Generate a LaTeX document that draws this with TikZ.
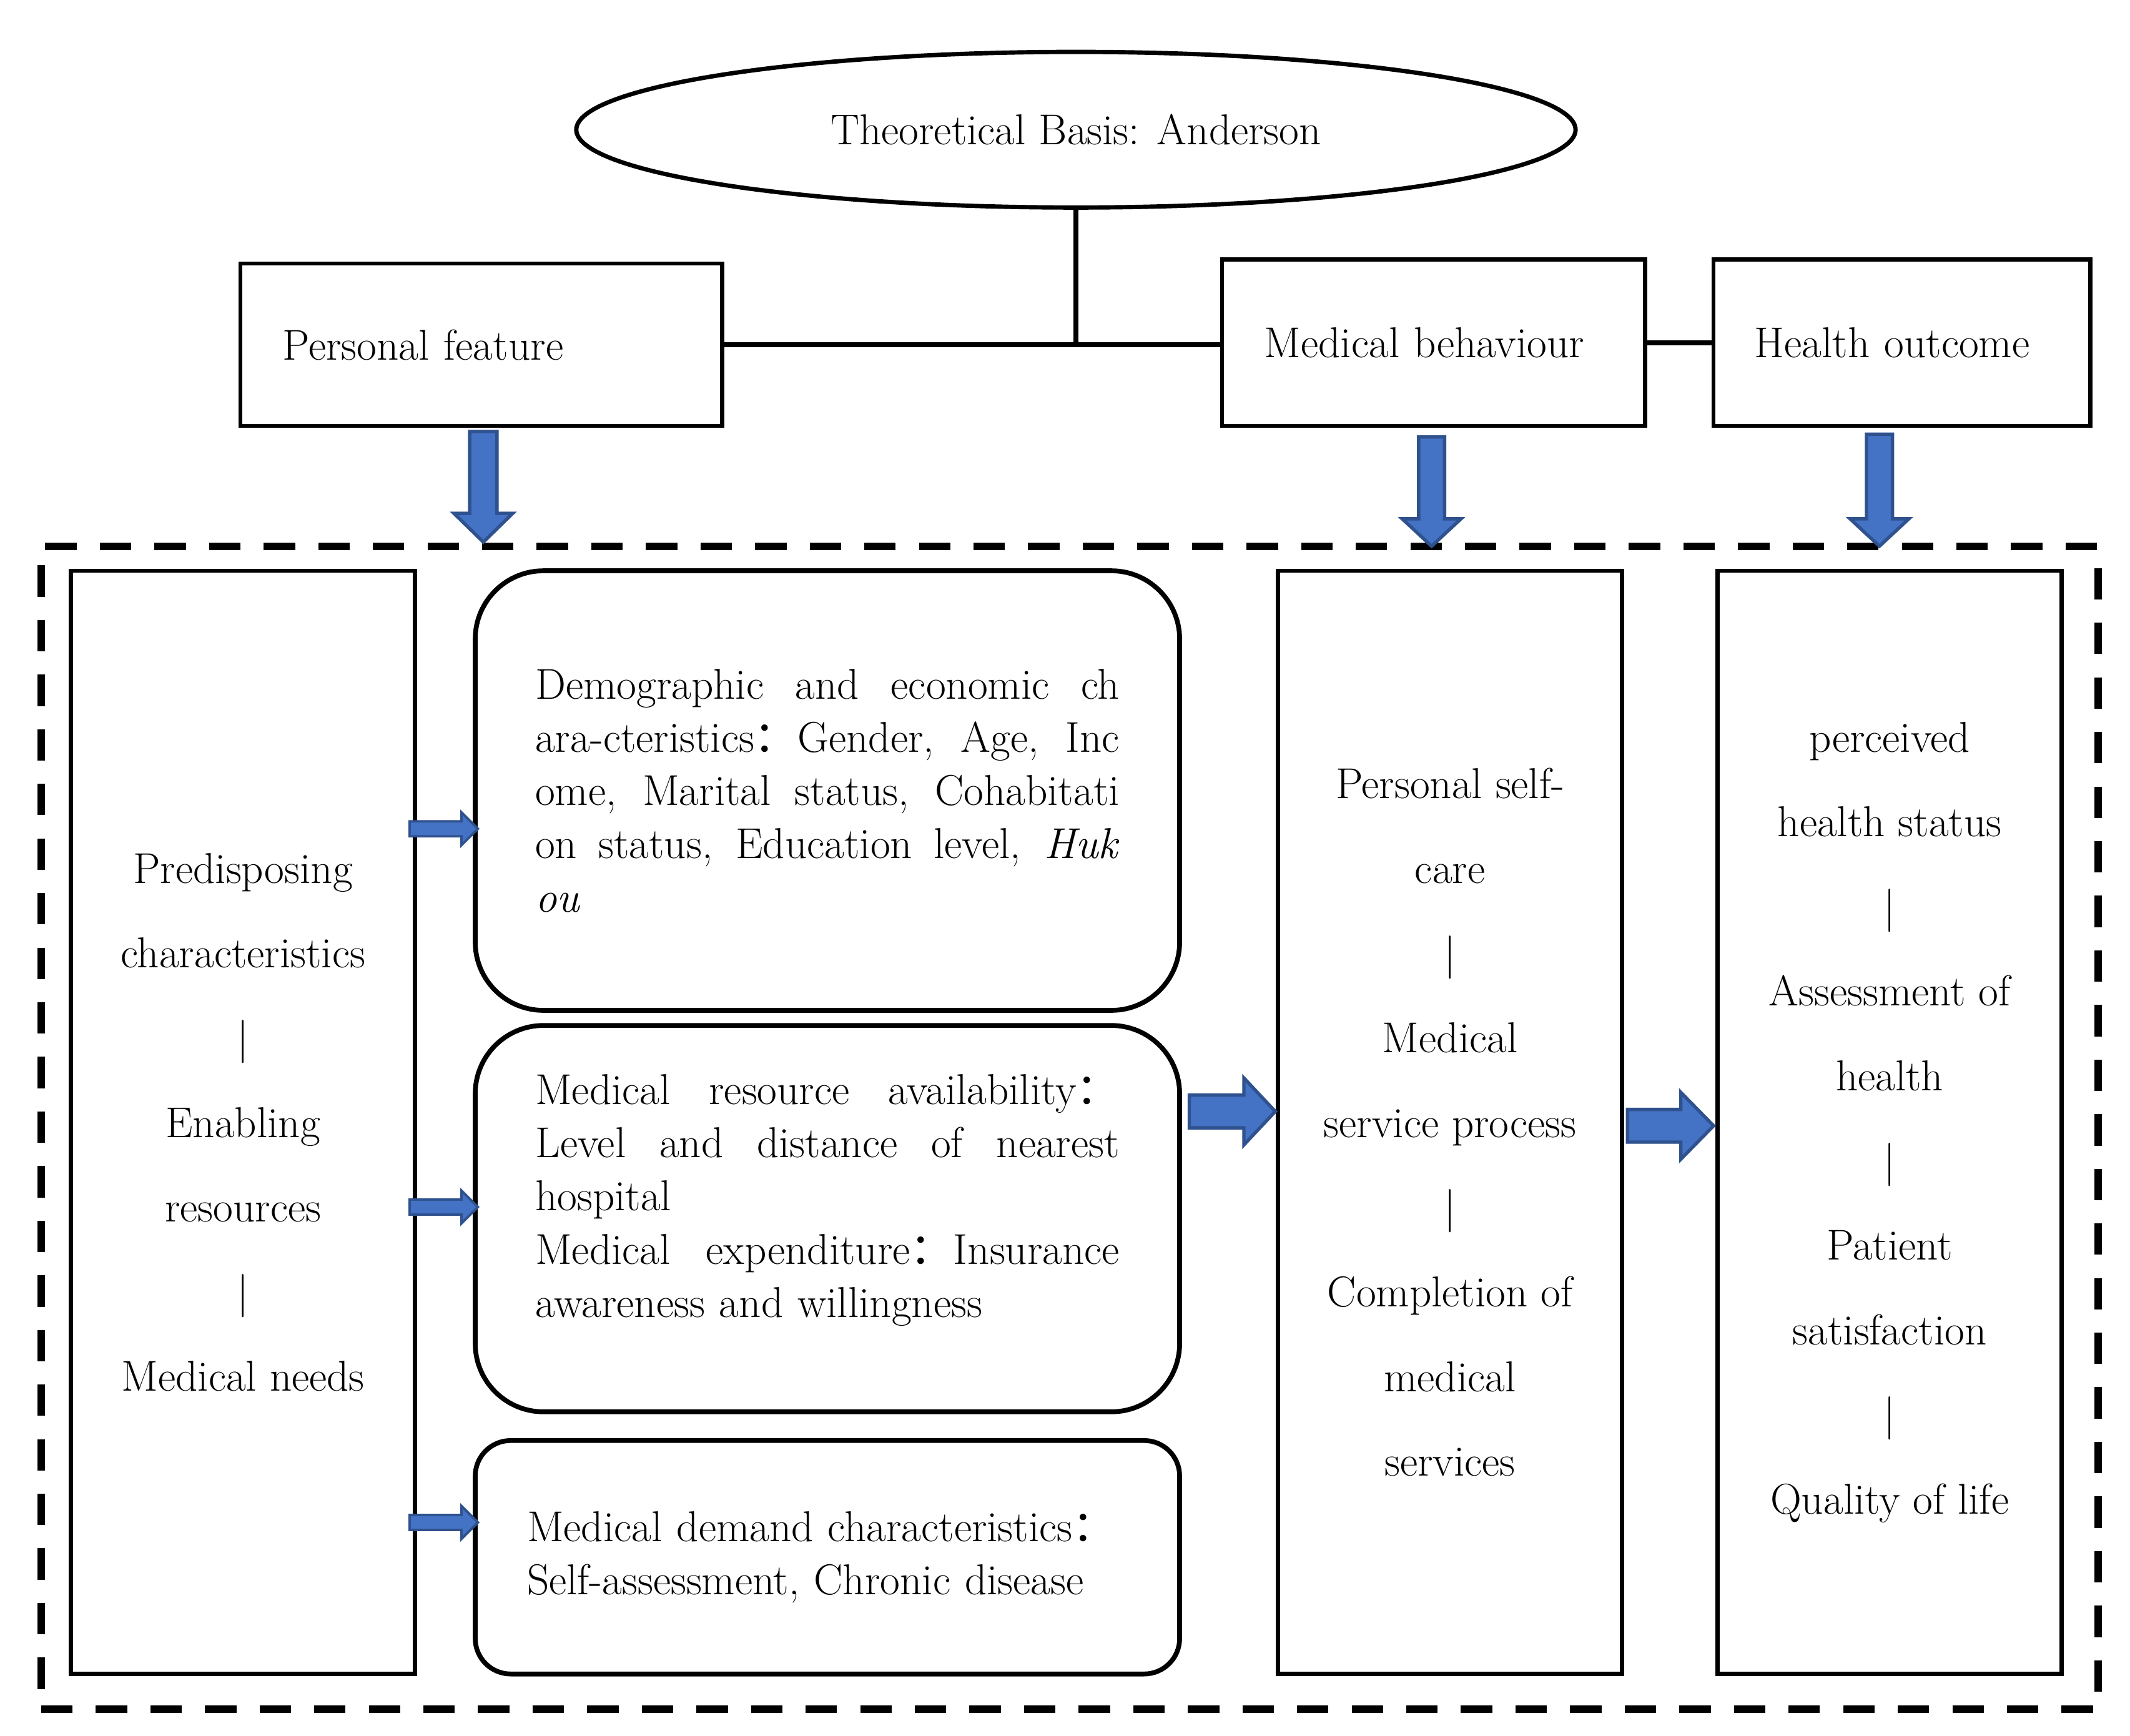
\documentclass[tikz,border=0pt]{standalone}
\usepackage{fontspec}
\newfontfamily\cjk{Noto Sans CJK SC}
\usetikzlibrary{shapes.geometric}
\definecolor{blueF}{RGB}{68,114,196}
\definecolor{blueD}{RGB}{47,82,143}
\newcommand\txtfont{\fontsize{18pt}{22.2pt}\selectfont}
\newcommand\colfont{\fontsize{18pt}{35.3pt}\selectfont}
\newcommand\jl[1]{\leavevmode\hbox to 8.56cm{\spaceskip=0.3333em plus 1fil\relax #1}}
% down block arrow: x, ytop, ybase, ytip, shaft half, head half
\newcommand\dblk[6]{\draw[blk] (#1-#5,#2) -- (#1+#5,#2) -- (#1+#5,#3) -- (#1+#6,#3) -- (#1,#4) -- (#1-#6,#3) -- (#1-#5,#3) -- cycle;}
% right block arrow: xstart, xbase, xtip, y, shaft half, head half
\newcommand\rblk[6]{\draw[blk] (#1,#4-#5) -- (#2,#4-#5) -- (#2,#4-#6) -- (#3,#4) -- (#2,#4+#6) -- (#2,#4+#5) -- (#1,#4+#5) -- cycle;}
\begin{document}
\begin{tikzpicture}[x=0.02cm,y=-0.02cm,
  every node/.style={font=\txtfont, inner sep=0pt},
  box/.style={draw, line width=1.7pt},
  col/.style={box, minimum width=5.04cm, minimum height=16.16cm, align=center, font=\colfont},
  rbox/.style={draw, line width=2pt, rounded corners=1cm, minimum width=10.32cm},
  topbox/.style={box, align=left},
  conn/.style={line width=2pt},
  blk/.style={fill=blueF, draw=blueD, line width=1.4pt, line join=miter},
  frame/.style={draw, line width=3.1pt, dash pattern=on 0.46cm off 0.34cm}
]
\useasboundingbox (0,0) rectangle (1560,1271);
\fill[white] (0,0) rectangle (1560,1271);

\node[draw, ellipse, line width=1.8pt, minimum width=14.64cm, minimum height=2.28cm] (ell) at (788,95) {Theoretical Basis: Anderson};

\node[topbox, text width=5.82cm, minimum width=7.06cm, minimum height=2.38cm] (pf) at (352.5,252.5) {Personal feature};
\node[topbox, text width=4.96cm, minimum width=6.2cm, minimum height=2.44cm] (mb) at (1050,251) {Medical behaviour};
\node[topbox, text width=4.32cm, minimum width=5.52cm, minimum height=2.44cm] (ho) at (1393,251) {Health outcome};

\draw[conn] (ell.south) -- (ell.south |- pf.east);
\draw[conn] (pf.east) -- (mb.west |- pf.east);
\draw[conn] (mb.east) -- (ho.west);

\node[frame, minimum width=30.14cm, minimum height=17.04cm] (frm) at (783.5,826) {};

\node[col] (pre) at (178,822) {Predisposing\\characteristics\\|\\Enabling\\resources\\|\\Medical needs};
\node[col] (mid) at (1062,822) {Personal self-\\care\\|\\Medical\\service process\\|\\Completion of\\medical\\services};
\node[col] (out) at (1384,822) {perceived\\health status\\|\\Assessment of\\health\\|\\Patient\\satisfaction\\|\\Quality of life};

\node[rbox, minimum height=6.44cm, text width=8.56cm, align=left] (r1) at (606,579) {\jl{Demographic and economic ch}\\\jl{ara-cteristics{\cjk ：}Gender, Age, Inc}\\\jl{ome, Marital status, Cohabitati}\\\jl{on status, Education level, \textit{Huk}}\\\textit{ou}};
\node[rbox, minimum height=5.66cm] (r2) at (606,892.5) {};
\node[text width=8.56cm, align=left] (r2t) at (606,879) {\jl{Medical resource availability{\cjk ：}}\\\jl{Level and distance of nearest}\\hospital\\\jl{Medical expenditure{\cjk ：}Insurance}\\awareness and willingness};
\node[rbox, rounded corners=0.52cm, minimum height=3.42cm, text width=8.8cm, align=left] (r3) at (606,1140.5) {Medical demand characteristics{\cjk ：}\\Self-assessment, Chronic disease};

\dblk{354}{316}{376}{397}{10}{21.5}
\dblk{1048.5}{320}{380}{400}{9.5}{21.5}
\dblk{1376.5}{318}{380}{400}{9.5}{21.5}

\begin{scope}[blk/.append style={line width=1pt}]
\rblk{300}{338}{350}{607}{5.5}{12}
\rblk{300}{338}{350}{884}{5.5}{12}
\rblk{300}{338}{350}{1115}{5.5}{12}
\end{scope}
\rblk{871}{911}{934}{814}{12}{24.5}
\rblk{1192}{1231}{1255}{824.5}{12}{24.5}
\end{tikzpicture}
\end{document}
